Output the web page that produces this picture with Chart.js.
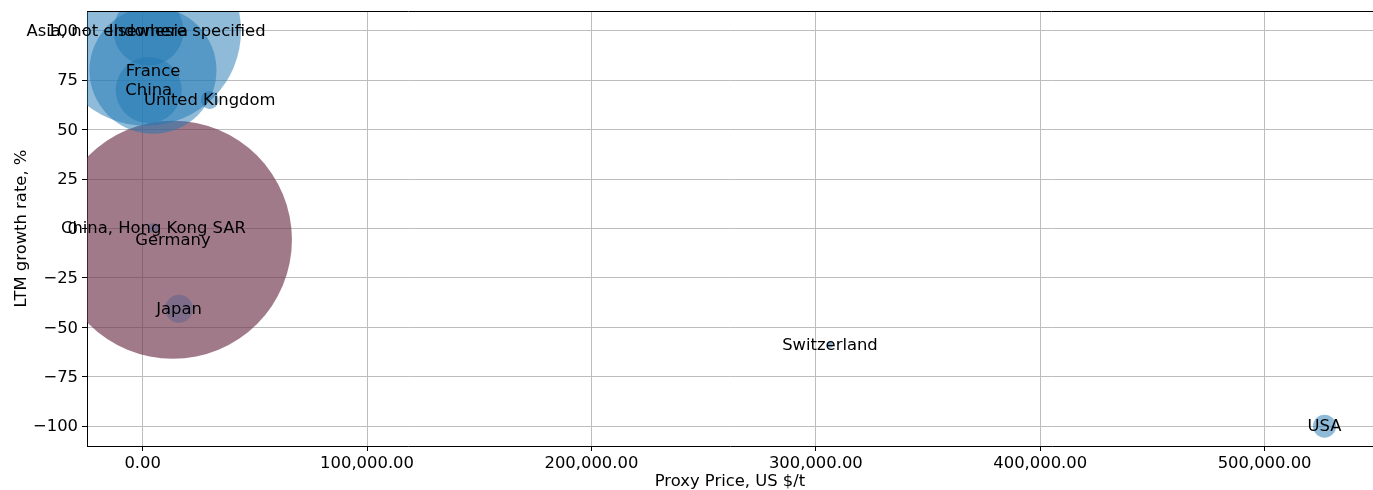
<!DOCTYPE html>
<html><head><meta charset="utf-8">
<script src="https://cdn.jsdelivr.net/npm/chart.js@4/dist/chart.umd.min.js"></script>
<style>html,body{margin:0;padding:0;background:#fff;overflow:hidden}canvas{display:block}</style>
</head><body>
<canvas id="c" width="1373" height="490"></canvas>
<script>
// ---- data ----
const countries = ["Germany","China, Hong Kong SAR","Japan","Asia, not elsewhere specified","France","Indonesia","China","United Kingdom","Switzerland","USA"];
const proxyPrice = [13500, 4800, 16200, 1500, 4600, 2600, 2700, 29900, 306300, 526700];
const growthRate = [-5.7, 0.3, -40.6, 100, 80, 100, 70, 65, -58.8, -100];
const bubbleSize = [14161, 25, 196, 9025, 4032, 1225, 1089, 81, 9, 132];
const xTicks = [0, 100000, 200000, 300000, 400000, 500000];
const yTicks = [-100, -75, -50, -25, 0, 25, 50, 75, 100];

// ---- styles ----
const FONT = 'DejaVu Sans';
const FS = 16.4;
const colorOf = name => {
  if (name === 'Germany') return 'rgba(110,50,75,0.65)';
  if (name === 'Japan' || name === 'China, Hong Kong SAR') return 'rgba(90,98,142,0.5)';
  return 'rgba(31,119,180,0.5)';
};

const points = countries.map((c, i) => ({x: proxyPrice[i], y: growthRate[i], r: Math.sqrt(bubbleSize[i])}));

const labelPlugin = {
  id: 'labels',
  afterDraw(chart) {
    const ctx = chart.ctx, xs = chart.scales.x, ys = chart.scales.y, a = chart.chartArea;
    ctx.save();
    ctx.strokeStyle = '#000'; ctx.lineWidth = 1;
    ctx.beginPath(); ctx.moveTo(a.left, Math.round(a.top) + 0.5); ctx.lineTo(a.right, Math.round(a.top) + 0.5); ctx.stroke();
    ctx.font = FS + 'px "' + FONT + '"';
    ctx.fillStyle = '#000'; ctx.textAlign = 'center'; ctx.textBaseline = 'middle';
    countries.forEach((c, i) => ctx.fillText(c, xs.getPixelForValue(proxyPrice[i]), ys.getPixelForValue(growthRate[i]) + 1));
    ctx.restore();
  }
};

const noPad = s => { s.paddingTop = 0; s.paddingBottom = 0; s.paddingLeft = 0; s.paddingRight = 0; };

Chart.defaults.font.family = FONT;
Chart.defaults.font.size = FS;
Chart.defaults.color = '#000';

new Chart(document.getElementById('c'), {
  type: 'bubble',
  data: { datasets: [{ data: points, backgroundColor: countries.map(colorOf), borderWidth: 0, hoverBorderWidth: 0 }] },
  options: {
    responsive: false, animation: false, devicePixelRatio: 1,
    layout: { autoPadding: false, padding: { top: 11, right: 0, left: 0, bottom: 0 } },
    plugins: { legend: { display: false }, tooltip: { enabled: false } },
    scales: {
      x: {
        type: 'linear', min: -24800, max: 548300, z: 1,
        afterBuildTicks: s => { s.ticks = xTicks.map(v => ({ value: v })); },
        afterFit: s => { s.height = 44; noPad(s); },
        grid: { color: '#bdbdbd', lineWidth: 1, tickColor: '#000', tickLength: 5, tickWidth: 1 },
        border: { color: '#000', width: 1 },
        ticks: { color: '#000', padding: 3, maxRotation: 0, autoSkip: false,
          callback: v => Number(v).toLocaleString('en-US', { minimumFractionDigits: 2, maximumFractionDigits: 2 }) },
        title: { display: true, text: 'Proxy Price, US $/t', color: '#000', font: { size: FS, lineHeight: 1 }, padding: { top: 0, bottom: 0 } }
      },
      y: {
        type: 'linear', min: -110, max: 110, z: 1,
        afterBuildTicks: s => { s.ticks = yTicks.map(v => ({ value: v })); },
        afterFit: s => { s.width = 87; noPad(s); },
        grid: { color: '#bdbdbd', lineWidth: 1, tickColor: '#000', tickLength: 5, tickWidth: 1 },
        border: { color: '#000', width: 1 },
        ticks: { color: '#000', padding: 4, autoSkip: false, labelOffset: 1, callback: v => String(v).replace('-', '\u2212') },
        title: { display: true, text: 'LTM growth rate, %', color: '#000', font: { size: FS, lineHeight: 1 }, padding: { top: 14, bottom: 0 } }
      }
    }
  },
  plugins: [labelPlugin]
});
</script>
</body></html>
